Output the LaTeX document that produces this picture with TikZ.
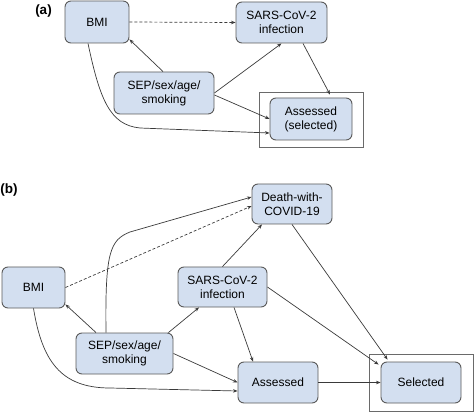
\documentclass[tikz,border=0pt]{standalone}
\usepackage{fontspec}
\setmainfont{Liberation Sans}
\usetikzlibrary{arrows.meta}
\definecolor{boxfill}{HTML}{D3DFF0}
\definecolor{boxline}{HTML}{5A5A5A}
\definecolor{frameline}{HTML}{6A6A6A}
\definecolor{arrowline}{HTML}{3A3A3A}
\tikzset{
  varbox/.style={draw=boxline, fill=boxfill, line width=0.9pt, rounded corners=6pt,
    inner sep=0pt, align=center, font=\fontsize{12}{14}\selectfont},
  framebox/.style={draw=frameline, line width=0.9pt, fill=white, inner sep=0pt},
  arr/.style={draw=arrowline, line width=0.7pt, -{Stealth[length=4.5pt,width=3.5pt]}},
  darr/.style={arr, dash pattern=on 3pt off 2pt},
  panellabel/.style={font=\bfseries\fontsize{13.5}{15}\selectfont, inner sep=0pt}
}
\begin{document}
\begin{tikzpicture}[x=1pt,y=-1pt]
\useasboundingbox (0,0) rectangle (474,414);
% ---------- panel (a)
\node[panellabel] (la) at (43.5,11.5) {(a)};
\node[varbox, minimum width=64pt, minimum height=42pt] (bmia) at (97,22) {BMI};
\node[varbox, minimum width=91pt, minimum height=41pt] (sarsa) at (281.5,22.5) {SARS-CoV-2\\infection};
\node[varbox, minimum width=100pt, minimum height=42pt] (sepa) at (164,93) {SEP/sex/age/\\smoking};
\node[framebox, minimum width=104pt, minimum height=55pt] (boxa) at (311,119.5) {};
\node[varbox, minimum width=82pt, minimum height=42pt] (assa) at (311,119) {Assessed\\(selected)};

\draw[darr] (bmia.east) -- (sarsa.west);
\draw[arr] ([xshift=-1pt]sepa.north) -- ([yshift=4pt]bmia.south east);
\draw[arr] (sepa.east) -- (sarsa.south);
\draw[arr] ([xshift=21.5pt]sarsa.south) -- ([xshift=19pt,yshift=-3pt]boxa.north);
\draw[arr] ([yshift=-2pt]sepa.east) -- (assa.west);
\draw[arr] ([xshift=-9pt]bmia.south) .. controls (100,100) and (110,125) .. (140,128) -- ([yshift=-14pt]assa.west);

% ---------- panel (b)
\node[panellabel] (lb) at (9,190.5) {(b)};
\node[varbox, minimum width=80pt, minimum height=40pt] (deathb) at (292,204) {Death-with-\\COVID-19};
\node[varbox, minimum width=63pt, minimum height=41pt] (bmib) at (33.5,287.5) {BMI};
\node[varbox, minimum width=89pt, minimum height=40pt] (sarsb) at (222.5,287) {SARS-CoV-2\\infection};
\node[varbox, minimum width=97pt, minimum height=41pt] (sepb) at (124.5,353.5) {SEP/sex/age/\\smoking};
\node[varbox, minimum width=80pt, minimum height=41pt] (assb) at (278,382.5) {Assessed};
\node[framebox, minimum width=104pt, minimum height=57pt] (boxb) at (421,382.5) {};
\node[varbox, minimum width=80pt, minimum height=41pt] (selb) at (421,382.5) {Selected};

\draw[darr] (bmib.east) -- ([yshift=-2pt]deathb.west);
\draw[arr] ([xshift=-18.5pt]sepb.north) .. controls (105,252) and (110,240) .. (130,232) -- ([yshift=7pt]deathb.west);
\draw[arr] ([xshift=-28.5pt]sepb.north) -- ([yshift=4pt]bmib.south east);
\draw[arr] ([xshift=-5pt]sepb.north east) -- ([xshift=-23.5pt]sarsb.south);
\draw[arr] (sarsb.north) -- ([xshift=-30pt]deathb.south);
\draw[arr] ([xshift=11.5pt]sarsb.south) -- ([xshift=-25pt]assb.north);
\draw[arr] (sarsb.east) -- ([xshift=-2pt,yshift=-3pt]selb.north west);
\draw[arr] (deathb.south) -- ([xshift=7pt,yshift=2pt]selb.north west);
\draw[arr] (sepb.east) -- (assb.west);
\draw[arr] (bmib.south) .. controls (42,360) and (60,388) .. (110,388) -- ([yshift=-8.5pt]assb.west);
\draw[arr] (assb.east) -- (selb.west);
\end{tikzpicture}
\end{document}
